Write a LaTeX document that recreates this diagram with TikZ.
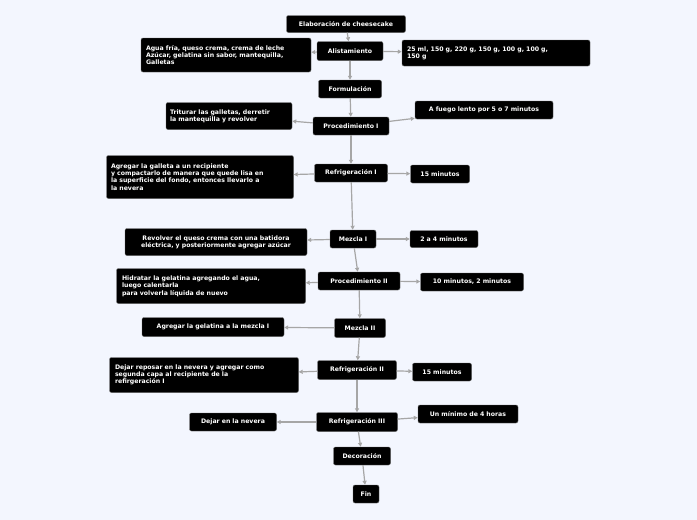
\documentclass[tikz,border=0pt]{standalone}
\usepackage{fontspec}
\setmainfont{DejaVu Sans}
\usetikzlibrary{arrows.meta}
\begin{document}
\begin{tikzpicture}[x=1pt,y=-1pt,
 bx/.style={fill=black,draw=black!60,rounded corners=2pt,text=white,font=\fontsize{6.2}{7.3}\selectfont\bfseries,inner sep=0pt,align=center},
 lb/.style={bx,align=left},
 ar/.style={draw=black!35,line width=1.2pt,-{Triangle[length=4pt,width=4pt]}}]
\fill[fill={rgb,255:red,243;green,246;blue,254}] (0,0) rectangle (697,520);
\newcommand{\B}[7]{\node[#1,minimum width=#4,minimum height=#5,text width=#6] (#2) at #3 {#7};}
\B{bx}{e}{(346,24)}{119}{17}{110}{Elaboración de cheesecake}
\B{bx}{al}{(350,51)}{66}{19}{60}{Alistamiento}
\B{lb}{ag}{(226,55)}{170}{34}{160}{Agua fría, queso crema, crema de leche\\Azúcar, gelatina sin sabor, mantequilla,\\Galletas}
\B{lb}{ml}{(496,53)}{188}{26}{178}{25 ml, 150 g, 220 g, 150 g, 100 g, 100 g,\\150 g}
\B{bx}{fo}{(350,89)}{63}{18}{60}{Formulación}
\B{bx}{p1}{(351,126)}{76}{18}{72}{Procedimiento I}
\B{lb}{tr}{(229,116)}{126}{27}{118}{Triturar las galletas, derretir\\la mantequilla y revolver}
\B{bx}{fu}{(484,110)}{138}{18}{132}{A fuego lento por 5 o 7 minutos}
\B{bx}{r1}{(351,173)}{73}{18}{70}{Refrigeración I}
\B{lb}{ga}{(200,177)}{187}{43}{178}{Agregar la galleta a un recipiente\\y compactarlo de manera que quede lisa en\\la superficie del fondo, entonces llevarlo a\\la nevera}
\B{bx}{q1}{(440,174)}{59}{18}{56}{15 minutos}
\B{bx}{m1}{(353,239)}{46}{18}{44}{Mezcla I}
\B{bx}{rv}{(216,242)}{182}{27}{176}{Revolver el queso crema con una batidora\\eléctrica, y posteriormente agregar azúcar}
\B{bx}{d4}{(444,239)}{68}{17}{64}{2 a 4 minutos}
\B{bx}{p2}{(359,281)}{82}{18}{78}{Procedimiento II}
\B{lb}{hi}{(211,286)}{189}{35}{178}{Hidratar la gelatina agregando el agua,\\luego calentarla\\para volverla líquida de nuevo}
\B{bx}{dm}{(472,282)}{103}{18}{100}{10 minutos, 2 minutos}
\B{bx}{m2}{(360,328)}{51}{19}{48}{Mezcla II}
\B{bx}{gm}{(213,327)}{142}{19}{138}{Agregar la gelatina a la mezcla I}
\B{bx}{r2}{(357,370)}{79}{19}{76}{Refrigeración II}
\B{lb}{dr}{(204,375)}{189}{35}{178}{Dejar reposar en la nevera y agregar como\\segunda capa al recipiente de la\\refirgeración I}
\B{bx}{q2}{(442,372)}{59}{18}{56}{15 minutos}
\B{bx}{r3}{(357,422)}{81}{19}{78}{Refrigeración III}
\B{bx}{dn}{(233,422)}{87}{18}{84}{Dejar en la nevera}
\B{bx}{mi}{(468,414)}{100}{18}{96}{Un mínimo de 4 horas}
\B{bx}{de}{(362,456)}{57}{18}{54}{Decoración}
\B{bx}{fi}{(366,494)}{26}{18}{24}{Fin}
\foreach \a/\b in {e/al,al/fo,fo/p1,p1/r1,r1/m1,m1/p2,p2/m2,m2/r2,r2/r3,r3/de,de/fi,
 al/ag,al/ml,p1/tr,p1/fu,r1/ga,r1/q1,m1/rv,m1/d4,p2/hi,p2/dm,m2/gm,r2/dr,r2/q2,r3/dn,r3/mi}
 \draw[ar] (\a) -- (\b);
\end{tikzpicture}
\end{document}
